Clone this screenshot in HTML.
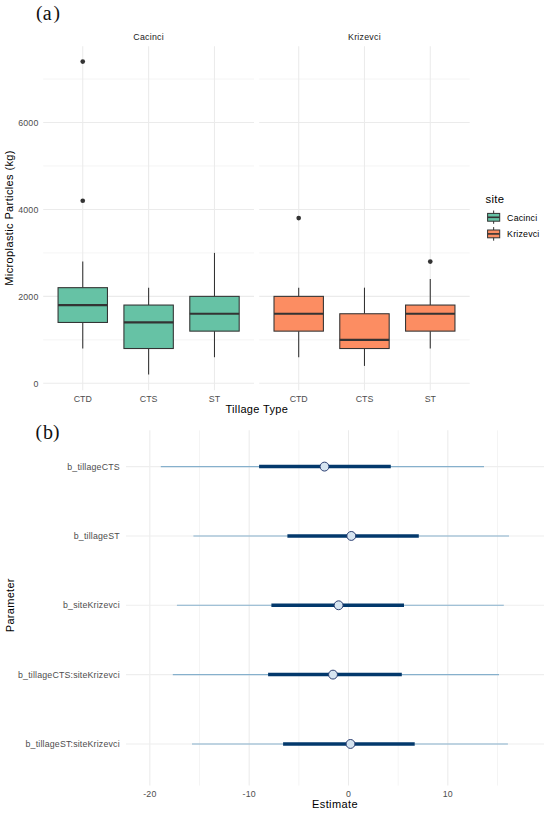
<!DOCTYPE html>
<html><head><meta charset="utf-8"><style>
html,body{margin:0;padding:0;background:#fff;width:550px;height:813px;overflow:hidden}
svg{display:block}
text{font-family:"Liberation Sans",sans-serif}
</style></head><body>
<svg width="550" height="813" viewBox="0 0 550 813">
<rect width="550" height="813" fill="#fff"/>
<line x1="43.2" x2="254" y1="339.83" y2="339.83" stroke="#ebebeb" stroke-width="0.55"/>
<line x1="43.2" x2="254" y1="252.89" y2="252.89" stroke="#ebebeb" stroke-width="0.55"/>
<line x1="43.2" x2="254" y1="165.95" y2="165.95" stroke="#ebebeb" stroke-width="0.55"/>
<line x1="43.2" x2="254" y1="79.01" y2="79.01" stroke="#ebebeb" stroke-width="0.55"/>
<line x1="43.2" x2="254" y1="383.3" y2="383.3" stroke="#ebebeb" stroke-width="1.07"/>
<line x1="43.2" x2="254" y1="296.36" y2="296.36" stroke="#ebebeb" stroke-width="1.07"/>
<line x1="43.2" x2="254" y1="209.42" y2="209.42" stroke="#ebebeb" stroke-width="1.07"/>
<line x1="43.2" x2="254" y1="122.48" y2="122.48" stroke="#ebebeb" stroke-width="1.07"/>
<line x1="82.75" x2="82.75" y1="46.3" y2="390.3" stroke="#ebebeb" stroke-width="1.07"/>
<line x1="148.62" x2="148.62" y1="46.3" y2="390.3" stroke="#ebebeb" stroke-width="1.07"/>
<line x1="214.49" x2="214.49" y1="46.3" y2="390.3" stroke="#ebebeb" stroke-width="1.07"/>
<text x="148.6" y="40.3" font-size="8.8" fill="#1a1a1a" text-anchor="middle" letter-spacing="0.25">Cacinci</text>
<line x1="82.75" x2="82.75" y1="261.58" y2="287.67" stroke="#333" stroke-width="1.07"/>
<line x1="82.75" x2="82.75" y1="322.44" y2="348.52" stroke="#333" stroke-width="1.07"/>
<rect x="58.05" y="287.67" width="49.4" height="34.78" fill="#66c2a5" stroke="#333" stroke-width="1.07"/>
<line x1="58.05" x2="107.45" y1="305.05" y2="305.05" stroke="#333" stroke-width="2.2"/>
<circle cx="82.75" cy="200.73" r="2.35" fill="#333"/>
<circle cx="82.75" cy="61.62" r="2.35" fill="#333"/>
<text x="82.75" y="401.8" font-size="8.8" fill="#4d4d4d" text-anchor="middle" letter-spacing="0">CTD</text>
<line x1="148.62" x2="148.62" y1="287.67" y2="305.05" stroke="#333" stroke-width="1.07"/>
<line x1="148.62" x2="148.62" y1="348.52" y2="374.61" stroke="#333" stroke-width="1.07"/>
<rect x="123.92" y="305.05" width="49.4" height="43.47" fill="#66c2a5" stroke="#333" stroke-width="1.07"/>
<line x1="123.92" x2="173.32" y1="322.44" y2="322.44" stroke="#333" stroke-width="2.2"/>
<text x="148.62" y="401.8" font-size="8.8" fill="#4d4d4d" text-anchor="middle" letter-spacing="0">CTS</text>
<line x1="214.49" x2="214.49" y1="252.89" y2="296.36" stroke="#333" stroke-width="1.07"/>
<line x1="214.49" x2="214.49" y1="331.14" y2="357.22" stroke="#333" stroke-width="1.07"/>
<rect x="189.79" y="296.36" width="49.4" height="34.78" fill="#66c2a5" stroke="#333" stroke-width="1.07"/>
<line x1="189.79" x2="239.19" y1="313.75" y2="313.75" stroke="#333" stroke-width="2.2"/>
<text x="214.49" y="401.8" font-size="8.8" fill="#4d4d4d" text-anchor="middle" letter-spacing="0">ST</text>
<line x1="259.2" x2="469.7" y1="339.83" y2="339.83" stroke="#ebebeb" stroke-width="0.55"/>
<line x1="259.2" x2="469.7" y1="252.89" y2="252.89" stroke="#ebebeb" stroke-width="0.55"/>
<line x1="259.2" x2="469.7" y1="165.95" y2="165.95" stroke="#ebebeb" stroke-width="0.55"/>
<line x1="259.2" x2="469.7" y1="79.01" y2="79.01" stroke="#ebebeb" stroke-width="0.55"/>
<line x1="259.2" x2="469.7" y1="383.3" y2="383.3" stroke="#ebebeb" stroke-width="1.07"/>
<line x1="259.2" x2="469.7" y1="296.36" y2="296.36" stroke="#ebebeb" stroke-width="1.07"/>
<line x1="259.2" x2="469.7" y1="209.42" y2="209.42" stroke="#ebebeb" stroke-width="1.07"/>
<line x1="259.2" x2="469.7" y1="122.48" y2="122.48" stroke="#ebebeb" stroke-width="1.07"/>
<line x1="298.7" x2="298.7" y1="46.3" y2="390.3" stroke="#ebebeb" stroke-width="1.07"/>
<line x1="364.48" x2="364.48" y1="46.3" y2="390.3" stroke="#ebebeb" stroke-width="1.07"/>
<line x1="430.26" x2="430.26" y1="46.3" y2="390.3" stroke="#ebebeb" stroke-width="1.07"/>
<text x="364.45" y="40.3" font-size="8.8" fill="#1a1a1a" text-anchor="middle" letter-spacing="0.25">Krizevci</text>
<line x1="298.7" x2="298.7" y1="287.67" y2="296.36" stroke="#333" stroke-width="1.07"/>
<line x1="298.7" x2="298.7" y1="331.14" y2="357.22" stroke="#333" stroke-width="1.07"/>
<rect x="274" y="296.36" width="49.4" height="34.78" fill="#fc8d62" stroke="#333" stroke-width="1.07"/>
<line x1="274" x2="323.4" y1="313.75" y2="313.75" stroke="#333" stroke-width="2.2"/>
<circle cx="298.7" cy="218.11" r="2.35" fill="#333"/>
<text x="298.7" y="401.8" font-size="8.8" fill="#4d4d4d" text-anchor="middle" letter-spacing="0">CTD</text>
<line x1="364.48" x2="364.48" y1="287.67" y2="313.75" stroke="#333" stroke-width="1.07"/>
<line x1="364.48" x2="364.48" y1="348.52" y2="365.91" stroke="#333" stroke-width="1.07"/>
<rect x="339.78" y="313.75" width="49.4" height="34.78" fill="#fc8d62" stroke="#333" stroke-width="1.07"/>
<line x1="339.78" x2="389.18" y1="339.83" y2="339.83" stroke="#333" stroke-width="2.2"/>
<text x="364.48" y="401.8" font-size="8.8" fill="#4d4d4d" text-anchor="middle" letter-spacing="0">CTS</text>
<line x1="430.26" x2="430.26" y1="278.97" y2="305.05" stroke="#333" stroke-width="1.07"/>
<line x1="430.26" x2="430.26" y1="331.14" y2="348.52" stroke="#333" stroke-width="1.07"/>
<rect x="405.56" y="305.05" width="49.4" height="26.08" fill="#fc8d62" stroke="#333" stroke-width="1.07"/>
<line x1="405.56" x2="454.96" y1="313.75" y2="313.75" stroke="#333" stroke-width="2.2"/>
<circle cx="430.26" cy="261.58" r="2.35" fill="#333"/>
<text x="430.26" y="401.8" font-size="8.8" fill="#4d4d4d" text-anchor="middle" letter-spacing="0">ST</text>
<text x="38.5" y="386.5" font-size="8.8" fill="#4d4d4d" text-anchor="end" letter-spacing="0.2">0</text>
<text x="38.5" y="299.56" font-size="8.8" fill="#4d4d4d" text-anchor="end" letter-spacing="0.2">2000</text>
<text x="38.5" y="212.62" font-size="8.8" fill="#4d4d4d" text-anchor="end" letter-spacing="0.2">4000</text>
<text x="38.5" y="125.68" font-size="8.8" fill="#4d4d4d" text-anchor="end" letter-spacing="0.2">6000</text>
<text x="256.8" y="413" font-size="11" fill="#000" text-anchor="middle" letter-spacing="0.33">Tillage Type</text>
<text transform="translate(12.9,217.9) rotate(-90)" x="0" y="0" font-size="11" fill="#000" text-anchor="middle" letter-spacing="0.38">Microplastic Particles (kg)</text>
<text x="485.5" y="203.2" font-size="11.3" fill="#000" letter-spacing="0.35">site</text>
<line x1="493.65" x2="493.65" y1="210.5" y2="223.8" stroke="#333" stroke-width="1"/>
<rect x="487.6" y="213.4" width="12.1" height="7.8" fill="#66c2a5" stroke="#333" stroke-width="1"/>
<line x1="487.6" x2="499.7" y1="217.3" y2="217.3" stroke="#333" stroke-width="1.6"/>
<text x="507.1" y="220.7" font-size="8.8" fill="#000" letter-spacing="0.2">Cacinci</text>
<line x1="493.65" x2="493.65" y1="227.1" y2="240.7" stroke="#333" stroke-width="1"/>
<rect x="487.6" y="230" width="12.1" height="7.8" fill="#fc8d62" stroke="#333" stroke-width="1"/>
<line x1="487.6" x2="499.7" y1="233.9" y2="233.9" stroke="#333" stroke-width="1.6"/>
<text x="507.1" y="237.3" font-size="8.8" fill="#000" letter-spacing="0.2">Krizevci</text>
<text x="36" y="18.7" style="font-family:Liberation Serif,serif" font-size="19.5" fill="#111">(</text>
<text x="42.8" y="20" style="font-family:Liberation Serif,serif" font-size="20" fill="#111">a</text>
<text x="53.6" y="18.7" style="font-family:Liberation Serif,serif" font-size="19.5" fill="#111">)</text>
<text x="35.5" y="438.3" style="font-family:Liberation Serif,serif" font-size="19.5" fill="#111">(</text>
<text x="43.1" y="439.3" style="font-family:Liberation Serif,serif" font-size="20" fill="#111">b</text>
<text x="53.1" y="438.3" style="font-family:Liberation Serif,serif" font-size="19.5" fill="#111">)</text>
<line x1="199.5" x2="199.5" y1="430.3" y2="785.6" stroke="#ebebeb" stroke-width="0.55"/>
<line x1="298.83" x2="298.83" y1="430.3" y2="785.6" stroke="#ebebeb" stroke-width="0.55"/>
<line x1="398.17" x2="398.17" y1="430.3" y2="785.6" stroke="#ebebeb" stroke-width="0.55"/>
<line x1="497.5" x2="497.5" y1="430.3" y2="785.6" stroke="#ebebeb" stroke-width="0.55"/>
<line x1="149.84" x2="149.84" y1="430.3" y2="785.6" stroke="#ebebeb" stroke-width="1.07"/>
<line x1="249.17" x2="249.17" y1="430.3" y2="785.6" stroke="#ebebeb" stroke-width="1.07"/>
<line x1="348.5" x2="348.5" y1="430.3" y2="785.6" stroke="#ebebeb" stroke-width="1.07"/>
<line x1="447.83" x2="447.83" y1="430.3" y2="785.6" stroke="#ebebeb" stroke-width="1.07"/>
<line x1="126" x2="544" y1="466.6" y2="466.6" stroke="#eeeeee" stroke-width="1.07"/>
<line x1="126" x2="544" y1="535.94" y2="535.94" stroke="#eeeeee" stroke-width="1.07"/>
<line x1="126" x2="544" y1="605.28" y2="605.28" stroke="#eeeeee" stroke-width="1.07"/>
<line x1="126" x2="544" y1="674.62" y2="674.62" stroke="#eeeeee" stroke-width="1.07"/>
<line x1="126" x2="544" y1="743.96" y2="743.96" stroke="#eeeeee" stroke-width="1.07"/>
<line x1="160.8" x2="484" y1="466.6" y2="466.6" stroke="#86b0cc" stroke-width="1.1"/>
<line x1="259.1" x2="390.8" y1="466.6" y2="466.6" stroke="#03396c" stroke-width="3.5"/>
<circle cx="324.5" cy="466.6" r="4.45" fill="#d6e4f0" stroke="#22366a" stroke-width="0.95"/>
<text x="119.8" y="469.5" font-size="8.8" fill="#4d4d4d" text-anchor="end" letter-spacing="0.18">b_tillageCTS</text>
<line x1="193.4" x2="509" y1="535.94" y2="535.94" stroke="#86b0cc" stroke-width="1.1"/>
<line x1="287.4" x2="418.8" y1="535.94" y2="535.94" stroke="#03396c" stroke-width="3.5"/>
<circle cx="351.3" cy="535.94" r="4.45" fill="#d6e4f0" stroke="#22366a" stroke-width="0.95"/>
<text x="119.8" y="538.84" font-size="8.8" fill="#4d4d4d" text-anchor="end" letter-spacing="0.18">b_tillageST</text>
<line x1="176.9" x2="503.8" y1="605.28" y2="605.28" stroke="#86b0cc" stroke-width="1.1"/>
<line x1="271.4" x2="404" y1="605.28" y2="605.28" stroke="#03396c" stroke-width="3.5"/>
<circle cx="338.6" cy="605.28" r="4.45" fill="#d6e4f0" stroke="#22366a" stroke-width="0.95"/>
<text x="119.8" y="608.18" font-size="8.8" fill="#4d4d4d" text-anchor="end" letter-spacing="0.18">b_siteKrizevci</text>
<line x1="172.8" x2="499" y1="674.62" y2="674.62" stroke="#86b0cc" stroke-width="1.1"/>
<line x1="268.1" x2="401.8" y1="674.62" y2="674.62" stroke="#03396c" stroke-width="3.5"/>
<circle cx="333" cy="674.62" r="4.45" fill="#d6e4f0" stroke="#22366a" stroke-width="0.95"/>
<text x="119.8" y="677.52" font-size="8.8" fill="#4d4d4d" text-anchor="end" letter-spacing="0.18">b_tillageCTS:siteKrizevci</text>
<line x1="192" x2="507.9" y1="743.96" y2="743.96" stroke="#86b0cc" stroke-width="1.1"/>
<line x1="283.1" x2="414.7" y1="743.96" y2="743.96" stroke="#03396c" stroke-width="3.5"/>
<circle cx="350.5" cy="743.96" r="4.45" fill="#d6e4f0" stroke="#22366a" stroke-width="0.95"/>
<text x="119.8" y="746.86" font-size="8.8" fill="#4d4d4d" text-anchor="end" letter-spacing="0.18">b_tillageST:siteKrizevci</text>
<text x="149.84" y="796.6" font-size="8.8" fill="#4d4d4d" text-anchor="middle" letter-spacing="0.2">-20</text>
<text x="249.17" y="796.6" font-size="8.8" fill="#4d4d4d" text-anchor="middle" letter-spacing="0.2">-10</text>
<text x="348.5" y="796.6" font-size="8.8" fill="#4d4d4d" text-anchor="middle" letter-spacing="0.2">0</text>
<text x="447.83" y="796.6" font-size="8.8" fill="#4d4d4d" text-anchor="middle" letter-spacing="0.2">10</text>
<text x="335" y="808.3" font-size="11" fill="#000" text-anchor="middle" letter-spacing="0.4">Estimate</text>
<text transform="translate(13.8,605.2) rotate(-90)" x="0" y="0" font-size="11" fill="#000" text-anchor="middle" letter-spacing="0.3">Parameter</text>
</svg></body></html>
